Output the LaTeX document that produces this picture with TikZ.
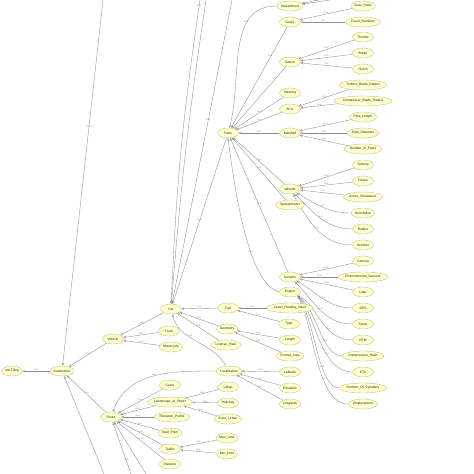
\documentclass[tikz,border=0pt]{standalone}
\usepackage{fontspec}
\usetikzlibrary{shapes.geometric,arrows.meta,backgrounds}
\newfontfamily\ogfont{Liberation Sans}
\definecolor{nodefill}{RGB}{255,255,204}
\definecolor{nodeborder}{RGB}{196,196,140}
\definecolor{edgegray}{RGB}{140,140,140}
\definecolor{lblgray}{RGB}{120,120,120}
\tikzset{
  cls/.style={ellipse, draw=nodeborder, fill=nodefill, line width=0.4pt, inner sep=0.3pt,
    minimum height=10pt, minimum width=21pt, text=black!85,
    font=\ogfont\fontsize{3.3}{4}\selectfont},
  edge/.style={draw=edgegray, line width=0.35pt, -{Triangle[open,length=2.4pt,width=2.4pt]}},
  lbl/.style={font=\ogfont\fontsize{2.4}{3}\selectfont, text=lblgray, inner sep=0.4pt, anchor=south}
}
\begin{document}
\begin{tikzpicture}[x=1pt,y=1pt]
\useasboundingbox (0,0) rectangle (474,-474);
% off-image ends
\coordinate (topA) at (103,0);
\coordinate (topB) at (200,0);
\coordinate (topC) at (206,0);
\coordinate (topD) at (232,0);
\coordinate (infoA) at (318,0);
\coordinate (infoB) at (330,0);
\coordinate (botA) at (104,-474);
\coordinate (botB) at (131,-474);
\coordinate (botC) at (146,-474);
% nodes left part
\node[cls] (thing) at (12,-371) {owl:Thing};
\node[cls] (auto) at (62,-371) {Automotive};
\node[cls] (vehicle) at (113,-339) {Vehicle};
\node[cls] (car) at (171,-309) {Car};
\node[cls] (truck) at (169,-331) {Truck};
\node[cls] (moto) at (171,-347) {Motorcycle};
\node[cls] (fuel) at (228,-308) {Fuel};
\node[cls] (lhv) at (290,-308) {Lower\_Heating\_Value};
\node[cls] (type) at (289,-324) {Type};
\node[cls] (geom) at (227,-329) {Geometry};
\node[cls] (plate) at (226,-345) {License\_Plate};
\node[cls] (length) at (290,-340) {Length};
\node[cls] (frontal) at (290,-356) {Frontal\_Area};
\node[cls] (loc) at (229,-371) {Localization};
\node[cls] (lat) at (290,-372) {Latitude};
\node[cls] (elev) at (290,-388) {Elevation};
\node[cls] (long) at (290,-404) {Longitude};
\node[cls] (route) at (111,-417) {Route};
\node[cls] (curve) at (170,-385) {Curve};
\node[cls] (land) at (170,-402) {Landscape\_of\_Street};
\node[cls] (urban) at (228,-387) {Urban};
\node[cls] (highway) at (228,-403) {Highway};
\node[cls] (extra) at (228,-419) {Extra\_Urban};
\node[cls] (elevp) at (172,-417) {Elevation\_Profile};
\node[cls] (start) at (170,-433) {Start\_Point};
\node[cls] (traffic) at (170,-449) {Traffic};
\node[cls] (maxl) at (227,-438) {Max\_Limit};
\node[cls] (minl) at (227,-454) {Min\_Limit};
\node[cls] (dist) at (170,-464) {Distance};
% parts
\node[cls] (parts) at (228,-133) {Parts};
\node[cls] (info) at (290,-6) {Infotainment};
\node[cls] (gears) at (290,-22) {Gears};
\node[cls] (switch) at (290,-62) {Switch};
\node[cls] (steer) at (290,-93) {Steering};
\node[cls] (ecu) at (290,-109) {ECU};
\node[cls] (manifold) at (290,-133) {Manifold};
\node[cls] (wheels) at (290,-189) {Wheels};
\node[cls] (speedo) at (290,-205) {Speedometer};
\node[cls] (sensors) at (290,-277) {Sensors};
\node[cls] (engine) at (290,-292) {Engine};
% right column
\node[cls] (gearratio) at (363,-6) {Gear\_Ratio};
\node[cls] (countnum) at (363,-22) {Count\_Numbers};
\node[cls] (throttle) at (363,-37) {Throttle};
\node[cls] (brake) at (363,-53) {Brake};
\node[cls] (clutch) at (363,-69) {Clutch};
\node[cls] (turbine) at (363,-85) {Turbine\_Blade\_Radius};
\node[cls] (compressor) at (363,-101) {Compressor\_Blade\_Radius};
\node[cls] (pipelen) at (363,-117) {Pipe\_Length};
\node[cls] (pipedia) at (363,-133) {Pipe\_Diameter};
\node[cls] (pipenum) at (363,-149) {Number\_of\_Pipes};
\node[cls] (velocity) at (363,-165) {Velocity};
\node[cls] (torque) at (363,-181) {Torque};
\node[cls] (active) at (363,-197) {Active\_Resistance};
\node[cls] (orient) at (363,-213) {Orientation};
\node[cls] (radius) at (363,-229) {Radius};
\node[cls] (number) at (363,-245) {Number};
\node[cls] (camera) at (363,-261) {Camera};
\node[cls] (envsens) at (363,-277) {Environmental\_Sensors};
\node[cls] (lidar) at (363,-292) {Lidar};
\node[cls] (gps) at (363,-308) {GPS};
\node[cls] (sonar) at (363,-324) {Sonar};
\node[cls] (rpm) at (363,-340) {RPM};
\node[cls] (compratio) at (363,-356) {Compression\_Ratio};
\node[cls] (eta) at (363,-372) {ETA};
\node[cls] (cyl) at (363,-388) {Number\_Of\_Cylinders};
\node[cls] (disp) at (363,-404) {Displacement};
% edges
\begin{pgfonlayer}{background}
\fill[white] (0,0) rectangle (474,-474);
\draw[edge] (auto) -- node[lbl]{is-a} (thing);
\draw[edge] (topA) -- node[lbl,pos=0.35]{is-a} (auto);
\draw[edge] (botA) -- (auto);
\draw[edge] (vehicle) -- node[lbl]{is-a} (auto);
\draw[edge] (route) -- node[lbl]{is-a} (auto);
\draw[edge] (car) -- node[lbl]{is-a} (vehicle);
\draw[edge] (truck) -- node[lbl]{is-a} (vehicle);
\draw[edge] (moto) -- node[lbl]{is-a} (vehicle);
\draw[edge] (topB) to[bend right=3] node[lbl,pos=0.02]{is-a} (car);
\draw[edge] (topC) to[bend right=2] (car);
\draw[edge] (topD) -- node[lbl,pos=0.4]{is-a} (car);
\draw[edge] (parts) -- node[lbl]{is-a} (car);
\draw[edge] (fuel) -- node[lbl]{is-a} (car);
\draw[edge] (geom) -- node[lbl]{is-a} (car);
\draw[edge] (plate) -- node[lbl]{is-a} (car);
\draw[edge] (loc) to[out=120,in=-75] node[lbl,pos=0.6]{is-a} (car);
\draw[edge] (lhv) -- node[lbl]{is-a} (fuel);
\draw[edge] (type) -- node[lbl]{is-a} (fuel);
\draw[edge] (length) -- node[lbl]{is-a} (geom);
\draw[edge] (frontal) -- node[lbl]{is-a} (geom);
\draw[edge] (lat) -- node[lbl]{is-a} (loc);
\draw[edge] (elev) -- node[lbl]{is-a} (loc);
\draw[edge] (long) -- node[lbl]{is-a} (loc);
\draw[edge] (loc) to[out=180,in=70] node[lbl]{is-a} (route);
\draw[edge] (curve) -- node[lbl]{is-a} (route);
\draw[edge] (land) -- node[lbl]{is-a} (route);
\draw[edge] (elevp) -- node[lbl]{is-a} (route);
\draw[edge] (start) -- node[lbl]{is-a} (route);
\draw[edge] (traffic) -- node[lbl]{is-a} (route);
\draw[edge] (dist) -- node[lbl]{is-a} (route);
\draw[edge] (botB) -- node[lbl,pos=0.25]{is-a} (route);
\draw[edge] (botC) -- (route);
\draw[edge] (urban) -- node[lbl]{is-a} (land);
\draw[edge] (highway) -- node[lbl]{is-a} (land);
\draw[edge] (extra) -- node[lbl]{is-a} (land);
\draw[edge] (maxl) -- node[lbl]{is-a} (traffic);
\draw[edge] (minl) -- node[lbl]{is-a} (traffic);
% parts
\draw[edge] (info) to[out=180,in=75] node[lbl,pos=0.3]{is-a} (parts);
\draw[edge] (gears) -- node[lbl,pos=0.3]{is-a} (parts);
\draw[edge] (switch) -- (parts);
\draw[edge] (steer) -- node[lbl]{is-a} (parts);
\draw[edge] (ecu) -- node[lbl]{is-a} (parts);
\draw[edge] (manifold) -- node[lbl]{is-a} (parts);
\draw[edge] (wheels) -- node[lbl]{is-a} (parts);
\draw[edge] (speedo) -- node[lbl]{is-a} (parts);
\draw[edge] (sensors) -- node[lbl]{is-a} (parts);
\draw[edge] (engine.west) .. controls (250,-285) and (236,-200) .. node[lbl,pos=0.4]{is-a} (parts.south);
\draw[edge] (infoA) -- (info);
\draw[edge] (infoB) -- node[lbl]{is-a} (info);
\draw[edge] (gearratio) -- node[lbl]{is-a} (gears);
\draw[edge] (countnum) -- node[lbl]{is-a} (gears);
\draw[edge] (throttle) -- node[lbl]{is-a} (switch);
\draw[edge] (brake) -- node[lbl]{is-a} (switch);
\draw[edge] (clutch) -- node[lbl]{is-a} (switch);
\draw[edge] (turbine) -- node[lbl]{is-a} (ecu);
\draw[edge] (compressor) -- node[lbl]{is-a} (ecu);
\draw[edge] (pipelen) -- node[lbl]{is-a} (manifold);
\draw[edge] (pipedia) -- node[lbl]{is-a} (manifold);
\draw[edge] (pipenum) -- node[lbl]{is-a} (manifold);
\draw[edge] (velocity) -- node[lbl]{is-a} (wheels);
\draw[edge] (torque) -- node[lbl]{is-a} (wheels);
\draw[edge] (active) -- node[lbl]{is-a} (wheels);
\draw[edge] (orient) to[out=180,in=-30] node[lbl]{is-a} (wheels);
\draw[edge] (radius) to[out=180,in=-45] node[lbl]{is-a} (wheels);
\draw[edge] (number) to[out=180,in=-60] node[lbl]{is-a} (wheels);
\draw[edge] (camera) -- node[lbl]{is-a} (sensors);
\draw[edge] (envsens) -- node[lbl]{is-a} (sensors);
\draw[edge] (lidar) -- node[lbl]{is-a} (sensors);
\draw[edge] (gps) to[out=180,in=-30] node[lbl]{is-a} (sensors);
\draw[edge] (sonar) to[out=180,in=-45] node[lbl]{is-a} (sensors);
\draw[edge] (rpm.west) .. controls (322,-340) and (318,-305) .. node[lbl,pos=0.35]{is-a} (engine.south east);
\draw[edge] (compratio.west) .. controls (322,-356) and (317,-310) .. node[lbl,pos=0.35]{is-a} (engine.south east);
\draw[edge] (eta.west) .. controls (320,-372) and (316,-315) .. node[lbl,pos=0.35]{is-a} (engine.south east);
\draw[edge] (cyl.west) .. controls (318,-388) and (315,-320) .. node[lbl,pos=0.35]{is-a} (engine.south east);
\draw[edge] (disp.west) .. controls (316,-404) and (314,-325) .. node[lbl,pos=0.35]{is-a} (engine.south east);
\end{pgfonlayer}
\end{tikzpicture}
\end{document}
